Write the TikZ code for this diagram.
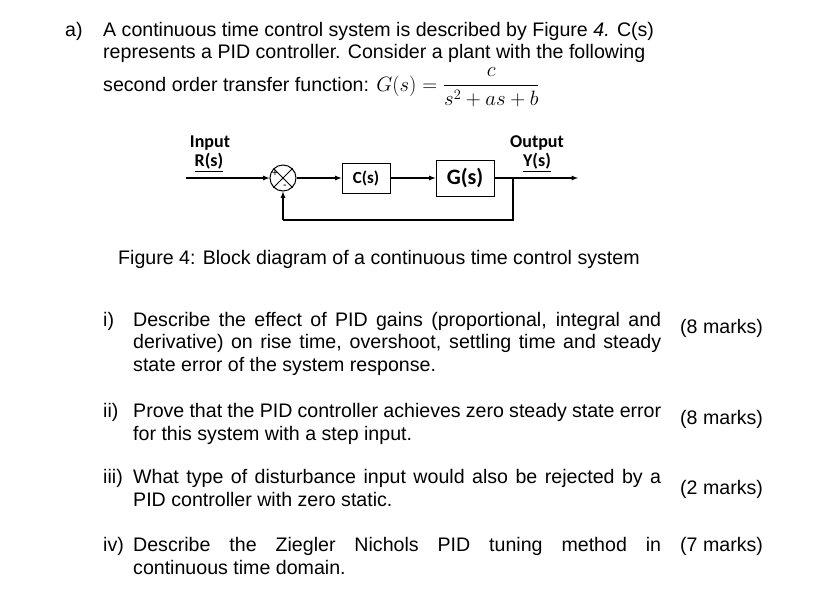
\documentclass[tikz,border=0pt]{standalone}
\usepackage{fontspec}
\usepackage{amsmath}
\setmainfont{Liberation Sans}
\newfontfamily\carl{Carlito}
\begin{document}
\begin{tikzpicture}[x=1pt,y=-1pt,
  txt/.style={anchor=base west,inner sep=0pt,font=\fontsize{19.6}{22}\selectfont},
  lbl/.style={inner sep=0pt,font=\carl\bfseries\fontsize{18}{20}\selectfont},
  blk/.style={draw,line width=1pt,minimum width=48pt,minimum height=30pt,inner sep=0pt,font=\carl\bfseries\fontsize{17}{20}\selectfont},
  ln/.style={line width=1.2pt},
  ar/.style={line width=1.2pt,-latex}]
\useasboundingbox (0,0) rectangle (820,614);
\node[txt] (a) at (65,36) {a)};
\node[txt] (l1) at (103,36) {A continuous time control system is described by Figure \textit{4.} C(s)};
\node[txt] (l2) at (103,58) {represents a PID controller. Consider a plant with the following};
\node[txt] (l3) at (103,91) {second order transfer function: $G(s)=\dfrac{c}{s^2+as+b}$};
% diagram
\node[draw,circle,line width=1pt,minimum size=26pt,inner sep=0pt] (sum) at (283,178) {};
\draw[line width=1pt] (sum.north west)--(sum.south east) (sum.north east)--(sum.south west);
\node[font=\fontsize{11}{11}\selectfont,inner sep=0pt] (pl) at (275,173) {+};
\node[font=\fontsize{11}{11}\selectfont,inner sep=0pt] (mi) at (285,187) {-};
\node[blk] (C) at (366,178) {C(s)};
\node[blk,minimum width=58pt,minimum height=36pt,font=\carl\bfseries\fontsize{22}{24}\selectfont] (G) at (465,178) {G(s)};
\coordinate (in) at (186,178);
\coordinate (br) at (513,178);
\coordinate (out) at (578,178);
\coordinate (fb1) at (513,220);
\coordinate (fb2) at (283,220);
\draw[ar] (in) -- (sum.west);
\draw[ar] (sum.east) -- (C.west);
\draw[ar] (C.east) -- (G.west);
\draw[ar] (G.east) -- (out);
\draw[ln] (br) -- (fb1) -- (fb2);
\draw[ar] (fb2) -- (sum.south);
\node[lbl] (inl) at (210,143) {Input};
\node[lbl] (rs) at (209,163) {\underline{R(s)}};
\node[lbl] (outl) at (537,143) {Output};
\node[lbl] (ys) at (537,163) {\underline{Y(s)}};
\node[txt] (cap) at (118,264) {Figure 4: Block diagram of a continuous time control system};
% questions
\node[txt] (i) at (103,326) {i)};
\node[txt] (i1) at (133,326) {\makebox[528pt][s]{Describe the effect of PID gains (proportional, integral and}};
\node[txt] (i2) at (133,348) {\makebox[528pt][s]{derivative) on rise time, overshoot, settling time and steady}};
\node[txt] (i3) at (133,371) {state error of the system response.};
\node[txt] (im) at (680,333) {(8 marks)};
\node[txt] (ii) at (103,417) {ii)};
\node[txt] (ii1) at (133,417) {\makebox[528pt][s]{Prove that the PID controller achieves zero steady state error}};
\node[txt] (ii2) at (133,440) {for this system with a step input.};
\node[txt] (iim) at (680,424) {(8 marks)};
\node[txt] (iii) at (103,483) {iii)};
\node[txt] (iii1) at (133,483) {\makebox[528pt][s]{What type of disturbance input would also be rejected by a}};
\node[txt] (iii2) at (133,506) {PID controller with zero static.};
\node[txt] (iiim) at (680,494) {(2 marks)};
\node[txt] (iv) at (103,551) {iv)};
\node[txt] (iv1) at (133,551) {\makebox[528pt][s]{Describe the Ziegler Nichols PID tuning method in}};
\node[txt] (iv2) at (133,574) {continuous time domain.};
\node[txt] (ivm) at (680,551) {(7 marks)};
\end{tikzpicture}
\end{document}
